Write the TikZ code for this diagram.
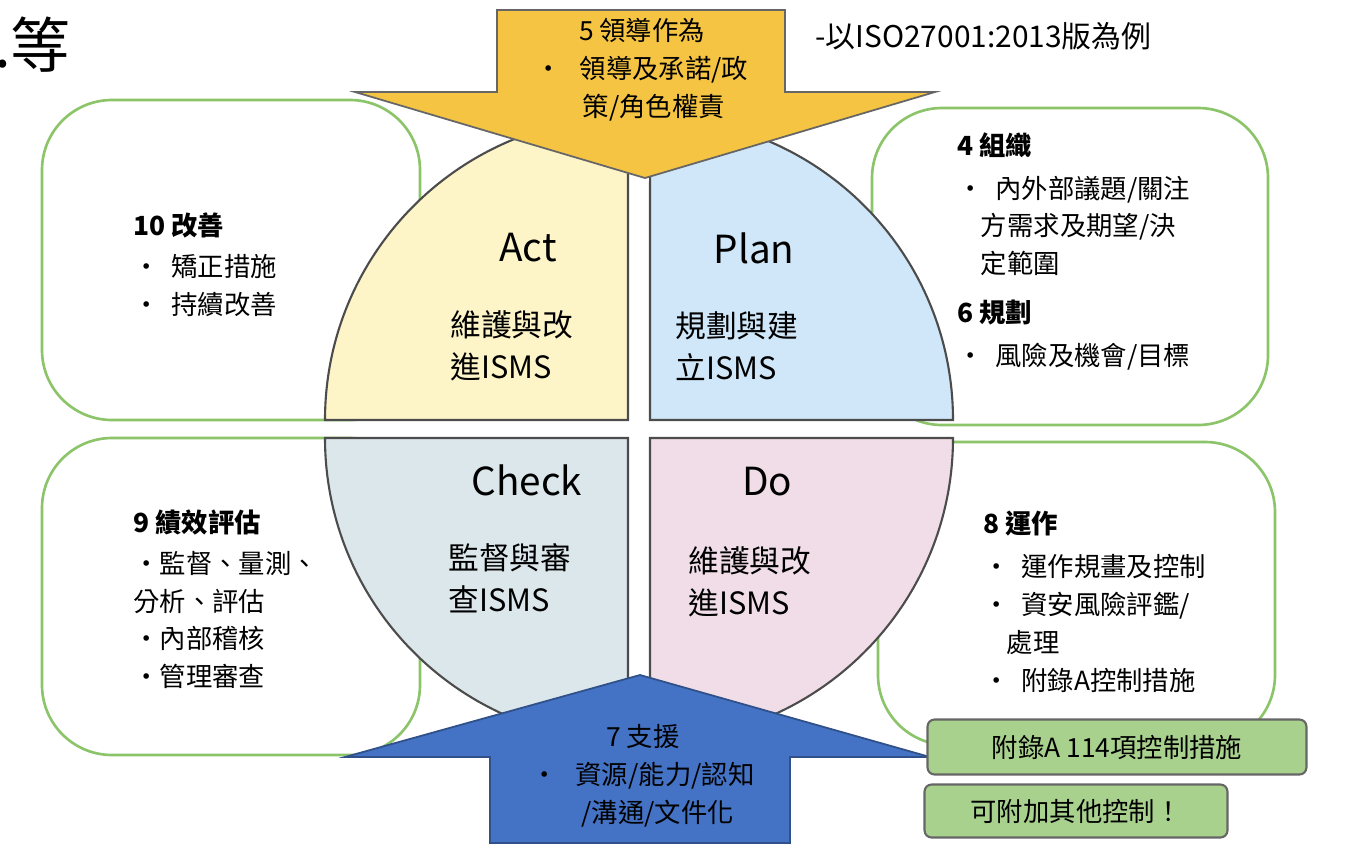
\documentclass[tikz,border=0pt]{standalone}
\usepackage{fontspec}
\setmainfont{Noto Sans CJK TC}
\usepackage{tikz}
\definecolor{actfill}{HTML}{FDF4C8}
\definecolor{planfill}{HTML}{CFE7F8}
\definecolor{checkfill}{HTML}{DCE7EB}
\definecolor{dofill}{HTML}{F0DDE8}
\definecolor{boxline}{HTML}{8CC46A}
\definecolor{leadfill}{HTML}{F6C443}
\definecolor{supfill}{HTML}{4472C4}
\definecolor{tagfill}{HTML}{A9D18E}
\tikzset{
  quad/.style={draw=black!70, line width=1.2pt},
  frame/.style={draw=boxline, line width=1.5pt, rounded corners=1.4cm},
  body/.style={align=left, anchor=north west, inner sep=0pt,
    font=\fontsize{15}{21.5}\selectfont},
  big/.style={body, font=\fontsize{17.5}{24}\selectfont},
  head/.style={font=\fontsize{22}{28}\selectfont, inner sep=0pt},
  tag/.style={draw=black!60, fill=tagfill, line width=1.2pt, rounded corners=4pt,
    font=\fontsize{15}{18}\selectfont}
}
\begin{document}
\begin{tikzpicture}[x=0.02cm, y=-0.02cm]
\useasboundingbox (0,0) rectangle (1346,856);
% outer frames
\draw [frame] (42,100) rectangle (420,420);
\draw [frame] (872,108) rectangle (1268,425);
\draw [frame] (42,438) rectangle (420,755);
\draw [frame] (878,442) rectangle (1275,745);
% quadrants
\draw [quad, fill=actfill] (628,420) -- (325,420) arc[start angle=180, end angle=90, radius=6.06cm] -- cycle;
\draw [quad, fill=planfill] (650,420) -- (953,420) arc[start angle=0, end angle=90, radius=6.06cm] -- cycle;
\draw [quad, fill=checkfill] (628,438) -- (325,438) arc[start angle=180, end angle=270, radius=6.06cm] -- cycle;
\draw [quad, fill=dofill] (650,438) -- (953,438) arc[start angle=0, end angle=-90, radius=6.06cm] -- cycle;
% arrows
\draw [black!60, fill=leadfill, line width=1pt] (497,10) -- (785,10) -- (785,92) -- (935,92)
  -- (645,178) -- (355,92) -- (497,92) -- cycle;
\draw [supfill!70!black, fill=supfill, line width=1pt] (640,675) -- (930,757) -- (790,757)
  -- (790,843) -- (490,843) -- (490,757) -- (345,757) -- cycle;
% quadrant labels
\node [head] (act) at (528,248) {Act};
\node [big] (actx) at (450,310) {維護與改\\進ISMS};
\node [head] (plan) at (754,248) {Plan};
\node [big] (planx) at (675,311) {規劃與建\\立ISMS};
\node [head] (check) at (527,480) {Check};
\node [big] (checkx) at (448,543) {監督與審\\查ISMS};
\node [head] (do) at (767,482) {Do};
\node [big] (dox) at (688,546) {維護與改\\進ISMS};
% clause texts
\node [body] (improve) at (133,212) {\textbf{10 改善}\\[2pt] •\ \ 矯正措施\\ •\ \ 持續改善};
\node [body] (org) at (957,132) {\textbf{4 組織}\\[3pt] •\ \ 內外部議題/關注\\ \ \ \ \ 方需求及期望/決\\ \ \ \ \ 定範圍\\[6pt]
  \textbf{6 規劃}\\[3pt] •\ \ 風險及機會/目標};
\node [body] (eval) at (133,509) {\textbf{9 績效評估}\\[2pt] •監督、量測、\\ 分析、評估\\ •內部稽核\\ •管理審查};
\node [body] (oper) at (983,511) {\textbf{8 運作}\\[3pt] •\ \ 運作規畫及控制\\ •\ \ 資安風險評鑑/\\ \ \ \ \ 處理\\ •\ \ 附錄A控制措施};
\node [body, align=center, anchor=north] (lead) at (642,18) {5 領導作為\\ •\ \ \ 領導及承諾/政\\ \ \ \ \ 策/角色權責};
\node [body, align=center, anchor=north, text=black] (support) at (643,724) {7 支援\\ •\ \ \ 資源/能力/認知\\ \ \ \ \ \ /溝通/文件化};
% tags and titles
\node [tag, minimum width=7.58cm, minimum height=1.1cm] (annexa) at (1117,747) {附錄A 114項控制措施};
\node [tag, minimum width=6.06cm, minimum height=1.06cm] (extra) at (1076,811) {可附加其他控制！};
\node [anchor=west, inner sep=0pt, font=\fontsize{17}{20}\selectfont] (title) at (815,36) {-以ISO27001:2013版為例};
\node [anchor=west, inner sep=0pt, font=\fontsize{34}{40}\selectfont] (etc) at (-6,45) {.等};
\end{tikzpicture}
\end{document}
